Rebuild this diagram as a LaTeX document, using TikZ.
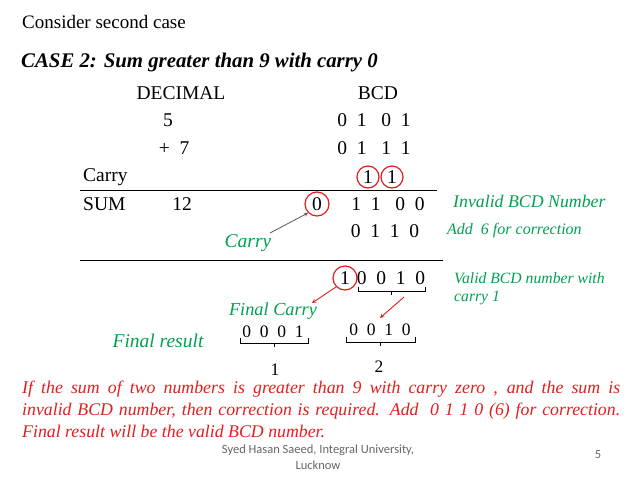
\documentclass[tikz,border=0pt]{standalone}
\usepackage{fontspec}
\setmainfont{Liberation Serif}
\newfontfamily\footfont{Carlito}
\definecolor{grn}{RGB}{0,160,80}
\definecolor{rd}{RGB}{225,30,30}
\begin{document}
\begin{tikzpicture}[x=1pt,y=-1pt,
  t/.style={inner sep=0pt,font=\fontsize{19.5}{22}\selectfont},
  g/.style={inner sep=0pt,text=grn,font=\fontsize{19.5}{22}\selectfont\itshape},
  gs/.style={inner sep=0pt,text=grn,font=\fontsize{16}{18}\selectfont\itshape,anchor=west,align=left},
  sm/.style={inner sep=0pt,font=\fontsize{17.5}{18}\selectfont},
  ring/.style={draw=rd,line width=1.2pt,circle,minimum size=22pt,inner sep=0pt},
  rarr/.style={draw=rd,line width=0.9pt,-stealth},
  brace/.style={draw,line width=0.8pt}]
\useasboundingbox (0,0) rectangle (638,478);
\node[t,anchor=west,font=\fontsize{19}{22}\selectfont] (cons) at (22,22) {Consider second case};
\node[inner sep=0pt,anchor=west,font=\fontsize{20.8}{24}\selectfont\bfseries\itshape] (case) at (21,63) {CASE 2: Sum greater than 9 with carry 0};
\node[t] (dec) at (181,93) {DECIMAL};
\node[t] (bcd) at (378,93) {BCD};
\node[t] (five) at (168,120) {5};
\node[t] (bcd1) at (374,120) {0 \ 1 \ \ 0 \ 1};
\node[t] (seven) at (174,148) {+ \ 7};
\node[t] (bcd2) at (374,148) {0 \ 1 \ \ 1 \ 1};
\node[t,anchor=west] (carry) at (83,177) {Carry};
\node[t] (c1) at (368,177) {1};
\node[t] (c2) at (392,177) {1};
\node[ring] at (c1) {}; \node[ring] at (c2) {};
\coordinate (l1a) at (80,190); \coordinate (l1b) at (437,190);
\draw[line width=0.8pt] (l1a) -- (l1b);
\node[t,anchor=west] (sum) at (83,204) {SUM};
\node[t] (twelve) at (182,204) {12};
\node[t] (z) at (317,204) {0};
\node[ring,minimum size=24pt] (zr) at (z) {};
\node[t] (bcd3) at (388,204) {1 \ 1 \ \ 0 \ 0};
\node[t] (six) at (385,231) {0 \ 1 \ 1 \ 0};
\node[g] (carrylbl) at (248,243) {Carry};
\coordinate (ca) at (270,233);
\draw[gray!70!black,line width=0.8pt,-stealth] (ca) -- (zr.south west);
\coordinate (l2a) at (80,260); \coordinate (l2b) at (443,260);
\draw[line width=0.8pt] (l2a) -- (l2b);
\node[t] (fc) at (345,278) {1};
\node[ring,minimum size=24pt] (fcr) at (fc) {};
\node[t] (res) at (391,278) {0 \ 0 \ 1 \ 0};
\draw[brace] (358,287) -- (358,291) -- (425,291) -- (425,287) (391,291) -- (391,295);
\node[g,font=\fontsize{18.3}{22}\selectfont\itshape] (finc) at (273,311) {Final Carry};
\coordinate (fcend) at (312,303);
\draw[rarr] (fcr.south west) -- (fcend);
\node[sm] (r1) at (273,332) {0 \ 0 \ 0 \ 1};
\draw[brace] (240,338) -- (240,343) -- (308,343) -- (308,338) (274,343) -- (274,347);
\node[sm] (r2) at (380,330) {0 \ 0 \ 1 \ 0};
\coordinate (a2s) at (404,297); \coordinate (a2e) at (380,318);
\draw[rarr] (a2s) -- (a2e);
\draw[brace] (346,337) -- (346,342) -- (415,342) -- (415,337) (380,342) -- (380,346);
\node[sm] (one) at (275,370) {1};
\node[sm] (two) at (379,367) {2};
\node[g] (finr) at (158,341) {Final result};
\node[gs,font=\fontsize{17.8}{19}\selectfont\itshape] (inv) at (453,201) {Invalid BCD Number};
\node[gs] (add) at (447,231) {Add \ 6 for correction};
\node[gs,font=\fontsize{15.7}{18}\selectfont\itshape] (val) at (454,289) {Valid BCD number with\\carry 1};
\node[inner sep=0pt,anchor=north west,text width=598pt,align=justify,text=rd,font=\fontsize{17.8}{22}\selectfont\itshape] (para) at (22,381) {If the sum of two numbers is greater than 9 with carry zero , and the sum is\linebreak invalid BCD number, then correction is required. Add \ 0 1 1 0 (6) for correction.\linebreak Final result will be the valid BCD number.};
\node[inner sep=0pt,align=center,text=gray!80!black,font=\footfont\fontsize{12.5}{16}\selectfont] (foot) at (318,457) {Syed Hasan Saeed, Integral University,\\Lucknow};
\node[inner sep=0pt,text=gray!80!black,font=\footfont\fontsize{12.5}{14}\selectfont] (pg) at (598,455) {5};
\end{tikzpicture}
\end{document}
